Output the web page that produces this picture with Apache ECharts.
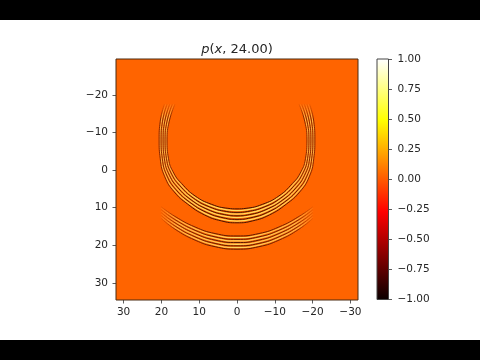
<!DOCTYPE html>
<html>
<head>
<meta charset="utf-8">
<script src="https://cdn.jsdelivr.net/npm/echarts@6/dist/echarts.min.js"></script>
<style>
  html, body { margin: 0; padding: 0; background: #fff; }
  #chart { width: 480px; height: 360px; }
</style>
</head>
<body>
<div id="chart"></div>
<script>
const xTicks = [30, 20, 10, 0, -10, -20, -30]
const yTicks = [-20, -10, 0, 10, 20, 30]

// half arcs, tip to centre, [x, y]
const upperDark = [
  [[19.2, -17.5], [20.3, -13], [20.6, -8], [20.3, -3], [19.1, 1.8], [16.6, 5.8], [13.1, 9], [8.6, 11.9], [4.1, 13.5], [0, 14]],
  [[18.5, -17.5], [19.7, -13], [20.08, -8], [19.75, -3], [18.48, 1.6], [16.1, 5.25], [12.6, 8.46], [8.13, 11.2], [3.68, 12.66], [0, 13.08]],
  [[17.8, -17.5], [19.1, -13], [19.55, -8], [19.2, -3], [17.85, 1.4], [15.6, 4.7], [12.1, 7.93], [7.65, 10.5], [3.25, 11.83], [0, 12.15]],
  [[17.1, -17.5], [18.5, -13], [19.03, -8], [18.65, -3], [17.23, 1.2], [15.1, 4.15], [11.6, 7.39], [7.18, 9.8], [2.83, 10.99], [0, 11.23]],
  [[16.4, -17.5], [17.9, -13], [18.5, -8], [18.1, -3], [16.6, 1], [14.6, 3.6], [11.1, 6.85], [6.7, 9.1], [2.4, 10.15], [0, 10.3]]
]
const upperBright = [
  [[18.85, -17.5], [20, -13], [20.34, -8], [20.03, -3], [18.79, 1.7], [16.35, 5.53], [12.85, 8.73], [8.36, 11.55], [3.89, 13.08], [0, 13.54]],
  [[18.15, -17.5], [19.4, -13], [19.81, -8], [19.48, -3], [18.16, 1.5], [15.85, 4.98], [12.35, 8.19], [7.89, 10.85], [3.46, 12.24], [0, 12.61]],
  [[17.45, -17.5], [18.8, -13], [19.29, -8], [18.93, -3], [17.54, 1.3], [15.35, 4.43], [11.85, 7.66], [7.41, 10.15], [3.04, 11.41], [0, 11.69]],
  [[16.75, -17.5], [18.2, -13], [18.76, -8], [18.38, -3], [16.91, 1.1], [14.85, 3.88], [11.35, 7.12], [6.94, 9.45], [2.61, 10.57], [0, 10.76]]
]

const lowerX = [20.1, 16.4, 11.1, 5.8, 0]
const lowerDark = [
  [12.8, 15.7, 18.6, 20.35, 21],
  [12.03, 14.85, 17.73, 19.48, 20.13],
  [11.25, 14, 16.85, 18.6, 19.25],
  [10.48, 13.15, 15.98, 17.73, 18.38],
  [9.7, 12.3, 15.1, 16.85, 17.5]
]
const lowerBright = [
  [12.41, 15.28, 18.16, 19.91, 20.56],
  [11.64, 14.43, 17.29, 19.04, 19.69],
  [10.86, 13.58, 16.41, 18.16, 18.81],
  [10.09, 12.73, 15.54, 17.29, 17.94]
]

const colorbarTicks = [-1, -0.75, -0.5, -0.25, 0, 0.25, 0.5, 0.75, 1]
const hotStops = [
  [0, '#0b0000'],
  [0.365, '#ff0000'],
  [0.746, '#ffff00'],
  [1, '#ffffff']
]

const field = '#ff6400'
const textColor = '#262626'
const fontFamily = '"DejaVu Sans", sans-serif'
const LinearGradient = echarts.graphic.LinearGradient

const minus = (text) => String(text).replace('-', '\u2212')

const mirror = (half) =>
  half.concat(half.slice(0, -1).reverse().map(([x, y]) => [-x, y]))

// the wave packets fade out toward their ends
const upperColor = (side, centre) => new LinearGradient(0, 0, 0, 1, [
  { offset: 0, color: field },
  { offset: 0.14, color: side },
  { offset: 0.6, color: side },
  { offset: 1, color: centre }
])
const lowerColor = (side, centre) => new LinearGradient(0, 0, 1, 0, [
  { offset: 0, color: field },
  { offset: 0.12, color: side },
  { offset: 0.5, color: centre },
  { offset: 0.88, color: side },
  { offset: 1, color: field }
])

const arcSeries = (points, color, width) => ({
  type: 'line',
  xAxisIndex: 0,
  yAxisIndex: 0,
  data: mirror(points),
  smooth: true,
  symbol: 'none',
  silent: true,
  lineStyle: { color, width }
})

const toPoints = (ys) => ys.map((y, i) => [lowerX[i], y])

const series = [
  ...upperBright.map(p => arcSeries(p, upperColor('#ffb040', '#ffe060'), 1.3)),
  ...upperDark.map(p => arcSeries(p, upperColor('#8a2800', '#401000'), 1)),
  ...lowerBright.map(ys => arcSeries(toPoints(ys), lowerColor('#ffb040', '#ffd860'), 1.3)),
  ...lowerDark.map(ys => arcSeries(toPoints(ys), lowerColor('#8a2800', '#501400'), 1)),
  {
    type: 'line',
    xAxisIndex: 1,
    yAxisIndex: 1,
    data: [],
    silent: true,
    markArea: {
      silent: true,
      itemStyle: {
        color: new LinearGradient(0, 1, 0, 0, hotStops.map(([offset, color]) => ({ offset, color })))
      },
      data: [[{ xAxis: 0, yAxis: -1 }, { xAxis: 1, yAxis: 1 }]]
    }
  }
]

const tickStyle = { show: true, length: 3.5, lineStyle: { color: '#333', width: 0.8 } }
const labelStyle = { color: textColor, fontSize: 10.5, fontFamily }

const chart = echarts.init(document.getElementById('chart'))
chart.setOption({
  animation: false,
  backgroundColor: '#fff',
  title: {
    text: '{i|p}({i|x}, 24.00)',
    left: 232,
    top: 38,
    textAlign: 'center',
    textStyle: {
      color: textColor,
      fontSize: 13,
      fontWeight: 'normal',
      fontFamily,
      rich: { i: { fontStyle: 'italic', fontSize: 13, fontFamily, color: textColor } }
    }
  },
  graphic: [
    { type: 'rect', z: 100, shape: { x: 0, y: 0, width: 480, height: 20 }, style: { fill: '#000' } },
    { type: 'rect', z: 100, shape: { x: 0, y: 340, width: 480, height: 20 }, style: { fill: '#000' } }
  ],
  grid: [
    { left: 116, top: 59, width: 242, height: 241, show: true, backgroundColor: field, borderColor: '#4a2a10', borderWidth: 1, containLabel: false },
    { left: 377, top: 59, width: 11.5, height: 240.5, show: true, backgroundColor: 'transparent', borderColor: '#444', borderWidth: 1, z: 5, containLabel: false }
  ],
  xAxis: [
    {
      type: 'value',
      gridIndex: 0,
      inverse: true,
      min: -32,
      max: 32,
      splitLine: { show: false },
      axisLine: { show: false, onZero: false },
      axisTick: { ...tickStyle, customValues: xTicks },
      axisLabel: { ...labelStyle, margin: 7, customValues: xTicks, formatter: minus, showMinLabel: true, showMaxLabel: true }
    },
    {
      type: 'value',
      gridIndex: 1,
      min: 0,
      max: 1,
      show: false
    }
  ],
  yAxis: [
    {
      type: 'value',
      gridIndex: 0,
      inverse: true,
      min: -29.5,
      max: 34.5,
      splitLine: { show: false },
      axisLine: { show: false, onZero: false },
      axisTick: { ...tickStyle, customValues: yTicks },
      axisLabel: { ...labelStyle, margin: 8, customValues: yTicks, formatter: minus }
    },
    {
      type: 'value',
      gridIndex: 1,
      position: 'right',
      min: -1,
      max: 1,
      interval: 0.25,
      splitLine: { show: false },
      axisLine: { show: false, onZero: false },
      axisTick: { ...tickStyle, customValues: colorbarTicks },
      axisLabel: { ...labelStyle, margin: 9, customValues: colorbarTicks, formatter: (v) => minus(Number(v).toFixed(2)) }
    }
  ],
  series
})
</script>
</body>
</html>
